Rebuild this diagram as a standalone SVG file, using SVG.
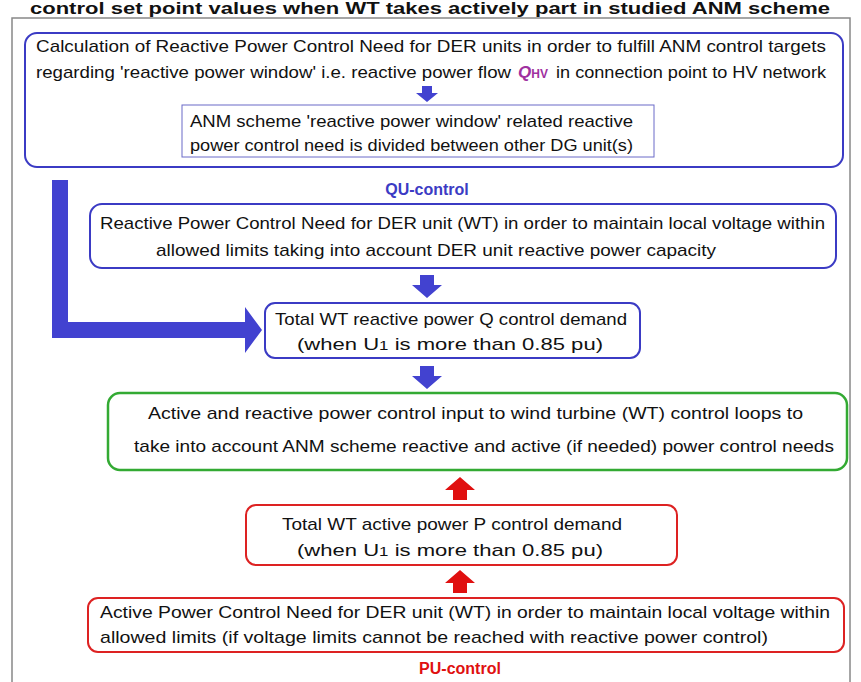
<svg xmlns="http://www.w3.org/2000/svg" width="861" height="682" viewBox="0 0 861 682">
<style>
text{font-family:"Liberation Sans",Arial,sans-serif;font-size:17px;fill:#111}
.b{fill:none;stroke:#3b3bc4;stroke-width:2}
.bl{fill:#4242d0}
.rd{fill:#e01010}
.lbl{font-weight:bold;font-size:16px}
</style>
<rect width="861" height="682" fill="#fff"/>
<text x="430" y="14" text-anchor="middle" style="font-weight:bold;font-size:17px" textLength="800" lengthAdjust="spacingAndGlyphs">control set point values when WT takes actively part in studied ANM scheme</text>
<rect x="12" y="18" width="838" height="680" fill="none" stroke="#888" stroke-width="1.5"/>
<g id="top">
<rect class="b" x="25" y="33" width="818" height="134" rx="12"/>
<text x="36" y="52" textLength="790" lengthAdjust="spacingAndGlyphs">Calculation of Reactive Power Control Need for DER units in order to fulfill ANM control targets</text>
<text x="36" y="78" textLength="475" lengthAdjust="spacingAndGlyphs">regarding 'reactive power window' i.e. reactive power flow</text>
<text x="518" y="78" style="fill:#a030a0;font-weight:bold;font-style:italic">Q<tspan style="font-size:12px;font-style:normal">HV</tspan></text>
<text x="556" y="78" textLength="270" lengthAdjust="spacingAndGlyphs">in connection point to HV network</text>
</g>
<g id="inner">
<rect x="182" y="105" width="472" height="52" fill="#fff" stroke="#6a6ac8" stroke-width="1"/>
<text x="190" y="127" textLength="443" lengthAdjust="spacingAndGlyphs">ANM scheme 'reactive power window' related reactive</text>
<text x="190" y="151" textLength="443" lengthAdjust="spacingAndGlyphs">power control need is divided between other DG unit(s)</text>
</g>
<text x="427" y="195" text-anchor="middle" class="lbl" style="fill:#3b3bc4">QU-control</text>
<g id="qu">
<rect class="b" x="90" y="204" width="746" height="64" rx="12"/>
<text x="100" y="229" textLength="725" lengthAdjust="spacingAndGlyphs">Reactive Power Control Need for DER unit (WT) in order to maintain local voltage within</text>
<text x="156" y="256" textLength="560" lengthAdjust="spacingAndGlyphs">allowed limits taking into account DER unit reactive power capacity</text>
</g>
<g id="qdem">
<rect class="b" x="265" y="303" width="375" height="55" rx="10"/>
<text x="275" y="325" textLength="352" lengthAdjust="spacingAndGlyphs">Total WT reactive power Q  control demand</text>
<text x="297" y="350" textLength="306" lengthAdjust="spacingAndGlyphs">(when  U<tspan style="font-size:13px">1</tspan>  is more than 0.85 pu)</text>
</g>
<g id="act">
<rect x="108" y="393" width="739" height="77" rx="12" fill="none" stroke="#33aa33" stroke-width="2.5"/>
<text x="148" y="419" textLength="655" lengthAdjust="spacingAndGlyphs">Active and reactive power control input to wind turbine (WT) control loops to</text>
<text x="134" y="452" textLength="700" lengthAdjust="spacingAndGlyphs">take into account ANM scheme reactive and active (if needed) power control needs</text>
</g>
<g id="pdem">
<rect x="246" y="505" width="431" height="60" rx="10" fill="none" stroke="#dd2222" stroke-width="2"/>
<text x="282" y="530" textLength="340" lengthAdjust="spacingAndGlyphs">Total WT active power P control demand</text>
<text x="297" y="556" textLength="306" lengthAdjust="spacingAndGlyphs">(when  U<tspan style="font-size:13px">1</tspan>  is more than 0.85 pu)</text>
</g>
<g id="pu">
<rect x="88" y="598" width="756" height="54" rx="10" fill="none" stroke="#dd2222" stroke-width="2"/>
<text x="100" y="618" textLength="730" lengthAdjust="spacingAndGlyphs">Active Power Control Need for DER unit (WT) in order to maintain local voltage within</text>
<text x="100" y="643" textLength="668" lengthAdjust="spacingAndGlyphs">allowed limits (if voltage limits cannot be reached with reactive power control)</text>
</g>
<text x="460" y="674" text-anchor="middle" class="lbl" style="fill:#e01010">PU-control</text>
<g id="connectors">
<polygon class="bl" points="422,86 432,86 432,93 438,93 427,102 416,93 422,93"/>
<polygon class="bl" points="52,180 68,180 68,322 245,322 245,307 262,330 245,353 245,338 52,338"/>
<polygon class="bl" points="420,275 434,275 434,285 442,285 427,298 412,285 420,285"/>
<polygon class="bl" points="420,366 434,366 434,376 442,376 427,389 412,376 420,376"/>
<polygon class="rd" points="453,500 467,500 467,490 475,490 460,477 445,490 453,490"/>
<polygon class="rd" points="453,593 467,593 467,583 475,583 460,570 445,583 453,583"/>
</g>
</svg>
